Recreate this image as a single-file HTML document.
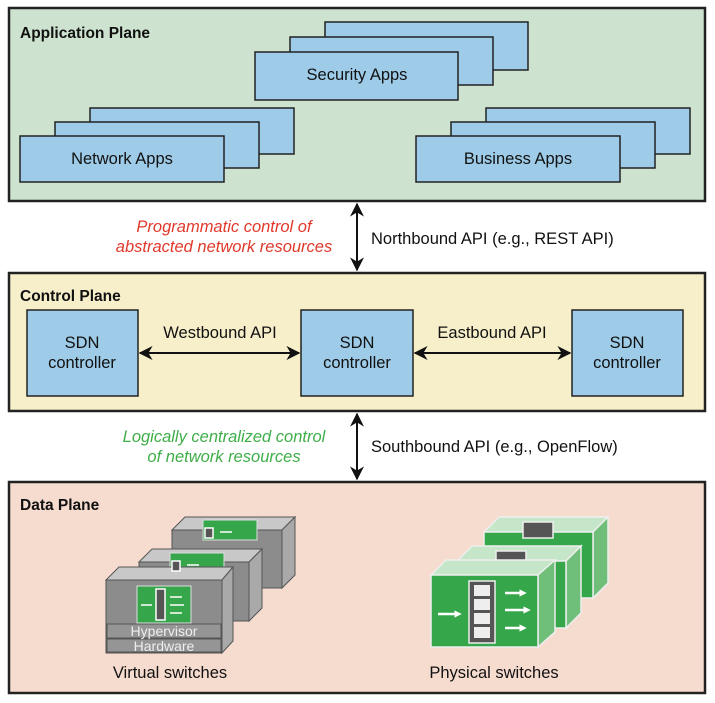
<!DOCTYPE html>
<html><head><meta charset="utf-8"><style>
html,body{margin:0;padding:0;background:#fff;}
svg{display:block;font-family:"Liberation Sans",Arial,sans-serif;}
</style></head><body>
<svg width="715" height="703" viewBox="0 0 715 703" xmlns="http://www.w3.org/2000/svg">
<defs>
<marker id="ah" viewBox="0 0 10 10" refX="9" refY="5" markerWidth="7" markerHeight="7" orient="auto-start-reverse">
<path d="M0,0 L10,5 L0,10 L3,5 z" fill="#111"/></marker>
<marker id="wa" viewBox="0 0 10 10" refX="5" refY="5" markerWidth="3" markerHeight="3" orient="auto"><path d="M0,0 L10,5 L0,10z" fill="#fff"/></marker>
</defs>
<!-- Application plane -->
<rect x="9" y="8" width="696" height="193" fill="#cde3cf" stroke="#222" stroke-width="2.5"/>
<text x="20" y="38" font-size="15.5" font-weight="bold" fill="#111">Application Plane</text>
<g fill="#9dcbe8" stroke="#222" stroke-width="1.5">
<rect x="325" y="22" width="203" height="48"/>
<rect x="290" y="37" width="203" height="48"/>
<rect x="255" y="52" width="203" height="48"/>
<rect x="90" y="108" width="204" height="46"/>
<rect x="55" y="122" width="204" height="46"/>
<rect x="20" y="136" width="204" height="46"/>
<rect x="486" y="108" width="204" height="46"/>
<rect x="451" y="122" width="204" height="46"/>
<rect x="416" y="136" width="204" height="46"/>
</g>
<g font-size="16.5" fill="#111" text-anchor="middle">
<text x="357" y="80">Security Apps</text>
<text x="122" y="164">Network Apps</text>
<text x="518" y="164">Business Apps</text>
</g>
<!-- North arrow -->
<line x1="357" y1="204" x2="357" y2="270" stroke="#111" stroke-width="2" marker-start="url(#ah)" marker-end="url(#ah)"/>
<g font-size="16.5" font-style="italic" fill="#e0392b" text-anchor="middle">
<text x="224" y="232">Programmatic control of</text>
<text x="224" y="252">abstracted network resources</text>
</g>
<text x="371" y="244" font-size="16.5" fill="#111">Northbound API (e.g., REST API)</text>
<!-- Control plane -->
<rect x="9" y="273" width="696" height="138" fill="#f6efc9" stroke="#222" stroke-width="2.5"/>
<text x="20" y="301" font-size="15.5" font-weight="bold" fill="#111">Control Plane</text>
<g fill="#9dcbe8" stroke="#222" stroke-width="1.5">
<rect x="27" y="310" width="111" height="86"/>
<rect x="301" y="310" width="112" height="86"/>
<rect x="572" y="310" width="111" height="86"/>
</g>
<g font-size="16.5" fill="#111" text-anchor="middle">
<text x="82" y="348">SDN</text><text x="82" y="368">controller</text>
<text x="357" y="348">SDN</text><text x="357" y="368">controller</text>
<text x="627" y="348">SDN</text><text x="627" y="368">controller</text>
<text x="220" y="338">Westbound API</text>
<text x="492" y="338">Eastbound API</text>
</g>
<line x1="140" y1="353" x2="299" y2="353" stroke="#111" stroke-width="2" marker-start="url(#ah)" marker-end="url(#ah)"/>
<line x1="415" y1="353" x2="570" y2="353" stroke="#111" stroke-width="2" marker-start="url(#ah)" marker-end="url(#ah)"/>
<!-- South arrow -->
<line x1="357" y1="414" x2="357" y2="479" stroke="#111" stroke-width="2" marker-start="url(#ah)" marker-end="url(#ah)"/>
<g font-size="16.5" font-style="italic" fill="#3fae49" text-anchor="middle">
<text x="224" y="442">Logically centralized control</text>
<text x="224" y="462">of network resources</text>
</g>
<text x="371" y="452" font-size="16.5" fill="#111">Southbound API (e.g., OpenFlow)</text>
<!-- Data plane -->
<rect x="9" y="482" width="696" height="211" fill="#f6dccf" stroke="#222" stroke-width="2.5"/>
<text x="20" y="510" font-size="15.5" font-weight="bold" fill="#111">Data Plane</text>
<g stroke="#555" stroke-width="1">
<polygon points="172,530 185,517 295,517 282,530" fill="#c8c8c8"/>
<polygon points="282,530 295,517 295,575 282,588" fill="#a9a9a9"/>
<rect x="172" y="530" width="110" height="58" fill="#8c8c8c"/>
<rect x="203" y="520" width="54" height="20" fill="#35a64a" stroke="#ddd"/>
<polygon points="139,562 152,549 262,549 249,562" fill="#c8c8c8"/>
<polygon points="249,562 262,549 262,608 249,621" fill="#a9a9a9"/>
<rect x="139" y="562" width="110" height="59" fill="#8c8c8c"/>
<rect x="170" y="553" width="54" height="20" fill="#35a64a" stroke="#ddd"/>
<polygon points="106,580 119,567 233,567 222,580" fill="#c8c8c8"/>
<polygon points="222,580 233,567 233,641 222,653" fill="#a9a9a9"/>
<rect x="106" y="580" width="116" height="73" fill="#8c8c8c"/>
<rect x="137" y="586" width="54" height="37" fill="#35a64a" stroke="#ddd"/>
<rect x="107" y="624" width="114" height="14" fill="#959595"/>
<rect x="107" y="639" width="114" height="13" fill="#959595"/>
</g>
<text x="164" y="636" text-anchor="middle" fill="#eee" font-size="14">Hypervisor</text>
<text x="164" y="651" text-anchor="middle" fill="#eee" font-size="14">Hardware</text>
<g stroke="#fff" stroke-width="1.5">
<rect x="156" y="589" width="9" height="31" fill="#555"/>
<line x1="141" y1="605" x2="152" y2="605"/><line x1="170" y1="597" x2="182" y2="597"/><line x1="170" y1="605" x2="184" y2="605"/><line x1="170" y1="613" x2="182" y2="613"/>
<rect x="205" y="528" width="8" height="10" fill="#555"/><line x1="220" y1="532" x2="232" y2="532"/>
<rect x="172" y="561" width="8" height="10" fill="#555"/><line x1="187" y1="565" x2="199" y2="565"/>
</g>
<g stroke="#eee" stroke-width="1.5">
<polygon points="484,532 499,517 608,517 593,532" fill="#c5e6c8"/>
<polygon points="593,532 608,517 608,583 593,598" fill="#6fbf7a"/>
<rect x="484" y="532" width="109" height="66" fill="#35a64a"/>
<rect x="523" y="522" width="30" height="16" fill="#555"/>
<polygon points="457,561 472,546 581,546 566,561" fill="#c5e6c8"/>
<polygon points="566,561 581,546 581,613 566,628" fill="#6fbf7a"/>
<rect x="457" y="561" width="109" height="67" fill="#35a64a"/>
<rect x="496" y="551" width="30" height="16" fill="#555"/>
<polygon points="431,575 446,560 555,560 538,575" fill="#c5e6c8"/>
<polygon points="538,575 555,560 555,632 538,647" fill="#6fbf7a"/>
<rect x="431" y="575" width="107" height="72" fill="#35a64a"/>
<rect x="469" y="581" width="26" height="62" fill="#555"/>
<rect x="474" y="585" width="16" height="11" fill="#eee" stroke="none"/>
<rect x="474" y="599" width="16" height="11" fill="#eee" stroke="none"/>
<rect x="474" y="613" width="16" height="11" fill="#eee" stroke="none"/>
<rect x="474" y="627" width="16" height="11" fill="#eee" stroke="none"/>
</g>
<g stroke="#fff" stroke-width="2.5" marker-end="url(#wa)">
<line x1="438" y1="614" x2="458" y2="614"/>
<line x1="505" y1="593" x2="523" y2="593"/>
<line x1="505" y1="610" x2="527" y2="610"/>
<line x1="505" y1="628" x2="523" y2="628"/>
</g>
<g font-size="16.5" fill="#111" text-anchor="middle">
<text x="170" y="678">Virtual switches</text>
<text x="494" y="678">Physical switches</text>
</g>
</svg>
</body></html>
